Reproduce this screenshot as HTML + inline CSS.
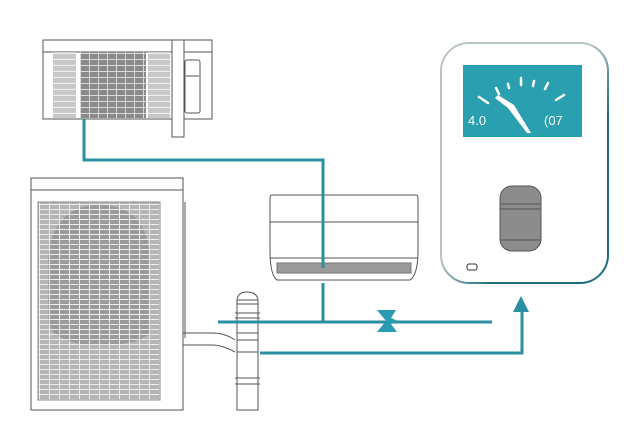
<!DOCTYPE html>
<html><head><style>body{margin:0;background:#fff}svg{display:block}</style></head><body>
<svg width="640" height="448" viewBox="0 0 640 448" xmlns="http://www.w3.org/2000/svg" font-family="Liberation Sans, sans-serif">
<defs>
<pattern id="g" width="9" height="6" patternUnits="userSpaceOnUse"><rect width="9" height="6" fill="#8a8a8a"/><path d="M0 5.5H9M8.5 0V6" stroke="#d8d8d8" stroke-width="1"/></pattern>
<pattern id="gl" width="22" height="6" patternUnits="userSpaceOnUse"><rect width="22" height="6" fill="#c8c8c8"/><path d="M0 5.5H22" stroke="#eee" stroke-width="1.2"/></pattern>
<pattern id="og" width="10" height="5" patternUnits="userSpaceOnUse"><rect width="10" height="5" fill="none"/><path d="M0 4.5H10M9.5 0V5" stroke="#eeeeee" stroke-width="1"/></pattern>
<linearGradient id="cb" x1="0" y1="0" x2="1" y2="1"><stop offset="0.45" stop-color="#b8c4c6"/><stop offset="0.65" stop-color="#1f6e7d"/></linearGradient>
</defs>
<g fill="none" stroke="#555" stroke-width="1">
<rect x="43" y="40" width="169" height="79" fill="#fff"/>
<line x1="43" y1="52" x2="212" y2="52"/>
<rect x="53" y="52" width="23" height="66" fill="url(#gl)" stroke="none"/>
<rect x="80" y="52" width="66" height="66" fill="url(#g)" stroke="none"/>
<rect x="148" y="52" width="22" height="66" fill="url(#gl)" stroke="none"/>
<rect x="172" y="40" width="12" height="97" fill="#fff"/>
<rect x="185" y="60" width="15" height="53" rx="2" fill="#fff"/>
<line x1="186" y1="76" x2="199" y2="76"/>
<rect x="31" y="178" width="152" height="232" fill="#fff"/>
<line x1="31" y1="190" x2="183" y2="190"/>
<rect x="38" y="202" width="122" height="198" fill="#b4b4b4" stroke="none"/>
<path d="M48 255Q55 205 100 205Q148 205 150 260V330Q145 345 100 345Q52 345 48 320Z" fill="#999" stroke="none"/>
<rect x="38" y="202" width="122" height="198" fill="url(#og)" stroke="#888"/>
<line x1="185" y1="202" x2="185" y2="338"/>
<path d="M272 195H416Q418 195 418 198V250Q418 275 410 280H277Q270 275 270 250V198Q270 195 272 195Z" fill="#fff"/>
<line x1="270" y1="222" x2="418" y2="222"/>
<line x1="270" y1="258" x2="418" y2="258"/>
<rect x="277" y="263" width="134" height="10" fill="#9a9a9a" stroke="#777"/>
<path d="M183 333H212Q225 333 235 340M183 345H212Q222 345 235 352" />
<path d="M237 300Q238 292 247 292Q257 292 258 300V410H237Z" fill="#fff"/>
<path d="M237 300H258M237 304H258M235 313H260M235 318H260M237 333H258M237 340H258M237 352H258M235 378H260M235 384H260" />
<rect x="441" y="43" width="167" height="240" rx="28" fill="#fff" stroke="url(#cb)" stroke-width="2"/>
</g>
<g fill="none" stroke="#2a8fa0" stroke-width="3">
<path d="M84 119V160H323V268"/>
<path d="M323 283V322"/>
<path d="M218 322H492"/>
<path d="M260 353H522V306"/>
</g>
<path d="M513 312L521 296L529 312Z" fill="#2a8fa0"/>
<path d="M377 310L396 310L391 318L398 321L391 324L397 332L377 332L386 321Z" fill="#2a9bb0"/>
<rect x="463" y="65" width="119" height="72" fill="#2a9fb0"/>
<g stroke="#fff" stroke-width="2.5" stroke-linecap="round">
<line x1="479" y1="97" x2="488" y2="103"/><line x1="496" y1="88" x2="499" y2="94"/>
<line x1="508" y1="84" x2="509" y2="88"/><line x1="521" y1="78" x2="521" y2="85"/>
<line x1="534" y1="81" x2="533" y2="86"/><line x1="548" y1="83" x2="545" y2="89"/><line x1="556" y1="100" x2="564" y2="95"/>
</g>
<path d="M495 98L508 108L527 133L531 133L514 105L498 95Z" fill="#fff"/>
<text x="468" y="125" fill="#fff" font-size="13">4.0</text>
<text x="544" y="125" fill="#fff" font-size="13">(07</text>
<rect x="500" y="186" width="41" height="65" rx="12" fill="#8c8c8c" stroke="#555"/>
<path d="M500 204H541M500 209H541M500 240H541" stroke="#555"/>
<rect x="467" y="264" width="10" height="6" rx="2" fill="none" stroke="#333"/>
</svg>
</body></html>
